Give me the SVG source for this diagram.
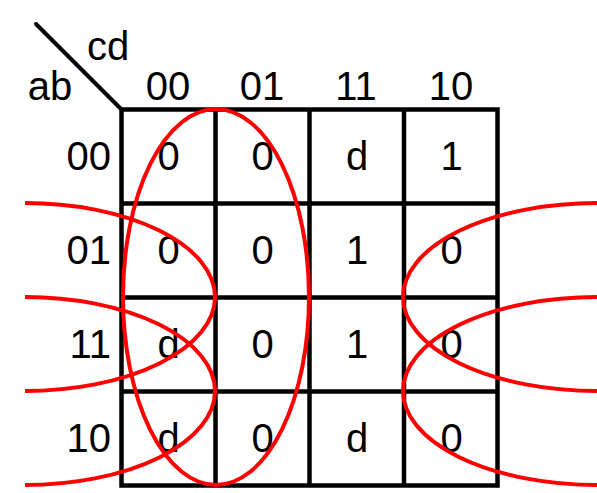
<svg xmlns="http://www.w3.org/2000/svg" width="597" height="493" viewBox="0 0 597 493">
<style>
.t{font-family:"Liberation Sans",Arial,sans-serif;font-size:40px;fill:#000;text-anchor:middle}
.r{text-anchor:end}
.g{stroke:#000;stroke-width:4.5;fill:none}
.e{stroke:#f00;stroke-width:4;fill:none}
</style>
<rect width="597" height="493" fill="#fff"/>
<g id="grid">
<rect class="g" x="121.5" y="109.5" width="376" height="376"/>
<line class="g" x1="215.5" y1="109.5" x2="215.5" y2="485.5"/>
<line class="g" x1="309.5" y1="109.5" x2="309.5" y2="485.5"/>
<line class="g" x1="404" y1="109.5" x2="404" y2="485.5"/>
<line class="g" x1="121.5" y1="203.5" x2="497.5" y2="203.5"/>
<line class="g" x1="121.5" y1="297.5" x2="497.5" y2="297.5"/>
<line class="g" x1="121.5" y1="391.5" x2="497.5" y2="391.5"/>
<line stroke="#000" stroke-width="4" stroke-linecap="round" x1="36" y1="24" x2="121" y2="109"/>
</g>
<g id="labels">
<text class="t" x="108" y="60">cd</text>
<text class="t" x="50" y="100">ab</text>
<text class="t" x="168" y="100">00</text>
<text class="t" x="262" y="100">01</text>
<text class="t" x="356" y="100">11</text>
<text class="t" x="451" y="100">10</text>
<text class="t r" x="111" y="170">00</text>
<text class="t r" x="111" y="264">01</text>
<text class="t r" x="111" y="358">11</text>
<text class="t r" x="111" y="452">10</text>
</g>
<g id="cells">
<text class="t" x="168.5" y="170">0</text>
<text class="t" x="262.5" y="170">0</text>
<text class="t" x="357" y="170">d</text>
<text class="t" x="451.5" y="170">1</text>
<text class="t" x="168.5" y="264">0</text>
<text class="t" x="262.5" y="264">0</text>
<text class="t" x="357" y="264">1</text>
<text class="t" x="451.5" y="264">0</text>
<text class="t" x="168.5" y="358">d</text>
<text class="t" x="262.5" y="358">0</text>
<text class="t" x="357" y="358">1</text>
<text class="t" x="451.5" y="358">0</text>
<text class="t" x="168.5" y="452">d</text>
<text class="t" x="262.5" y="452">0</text>
<text class="t" x="357" y="452">d</text>
<text class="t" x="451.5" y="452">0</text>
</g>
<g id="groups">
<ellipse class="e" cx="216" cy="297" rx="93" ry="188"/>
<path class="e" d="M25,203 A190,94 0 0 1 25,391"/>
<path class="e" d="M25,297 A190,94 0 0 1 25,485"/>
<path class="e" d="M597,203 A194,94 0 0 0 597,391"/>
<path class="e" d="M597,297 A194,94 0 0 0 597,485"/>
</g>
</svg>
